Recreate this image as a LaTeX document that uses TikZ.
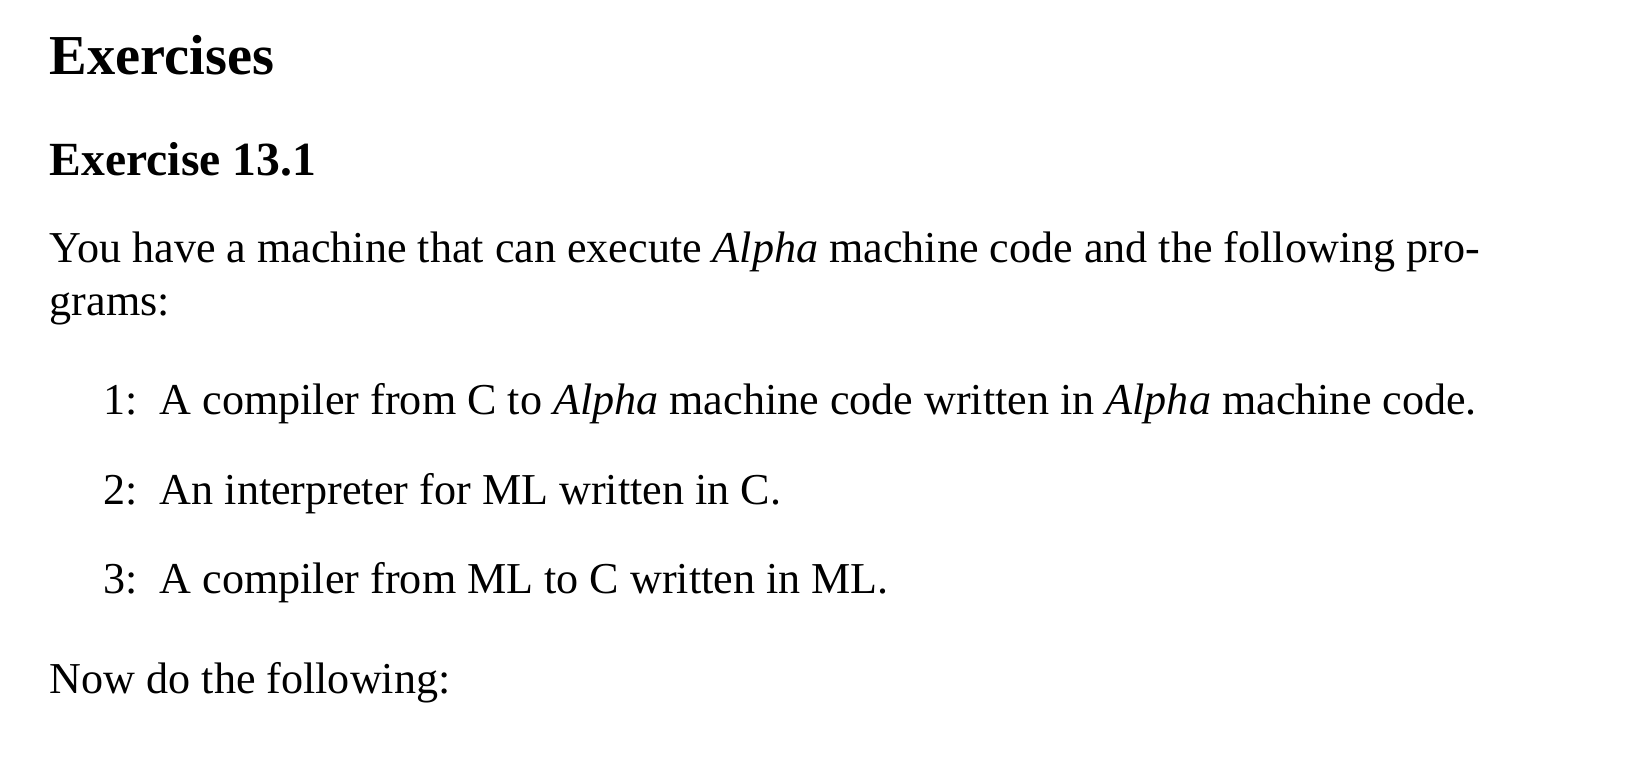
\documentclass[tikz,border=0pt]{standalone}
\usepackage{fontspec}
\setmainfont{Liberation Serif}
\begin{document}
\begin{tikzpicture}[x=0.25pt,y=-0.25pt,
  txt/.style={anchor=base west,inner sep=0pt,font=\fontsize{11.03}{13}\selectfont},
  hA/.style={anchor=base west,inner sep=0pt,font=\fontsize{14.1}{17}\selectfont\bfseries},
  hB/.style={anchor=base west,inner sep=0pt,font=\fontsize{11.9}{14}\selectfont\bfseries}]
\useasboundingbox (0,0) rectangle (1633,778);
\node[hA] (h1) at (49,75) {Exercises};
\node[hB] (h2) at (49,176) {Exercise 13.1};
\node[txt] (p1) at (49,263) {You have a machine that can execute \textit{Alpha} machine code and the following pro-};
\node[txt] (p2) at (49,316) {grams:};
\node[txt] (n1) at (103,415) {1:};
\node[txt] (i1) at (159,415) {A compiler from C to \textit{Alpha} machine code written in \textit{Alpha} machine code.};
\node[txt] (n2) at (103,504) {2:};
\node[txt] (i2) at (159,504) {An interpreter for ML written in C.};
\node[txt] (n3) at (103,593) {3:};
\node[txt] (i3) at (159,593) {A compiler from ML to C written in ML.};
\node[txt] (p3) at (49,693) {Now do the following:};
\end{tikzpicture}
\end{document}
